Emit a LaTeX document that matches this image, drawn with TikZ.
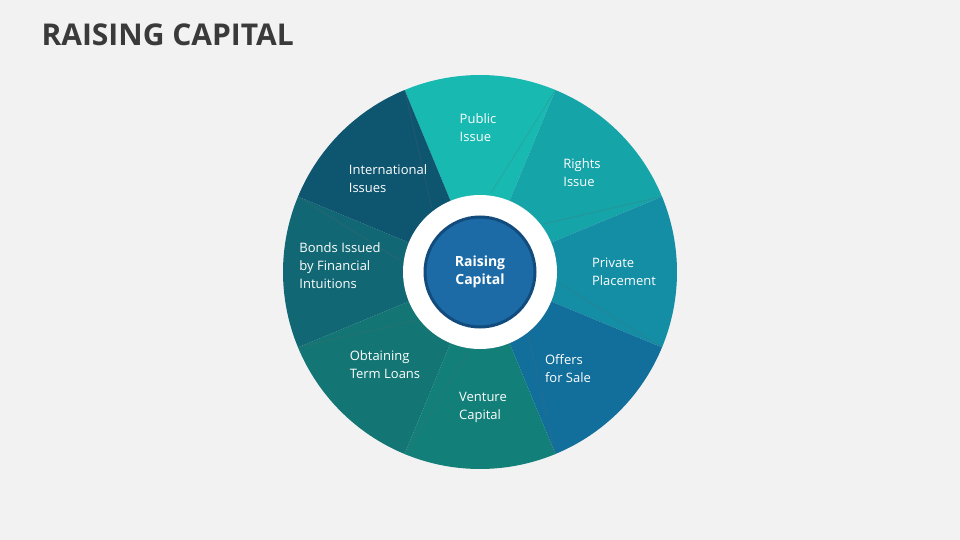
\documentclass[tikz,border=0pt]{standalone}
\usepackage{fontspec}
\usetikzlibrary{calc}
\setmainfont{Open Sans}
\definecolor{bg}{HTML}{F2F2F2}
\definecolor{ttl}{HTML}{3A3A3A}
\definecolor{cA}{HTML}{17B9B1}
\definecolor{cB}{HTML}{15A4A8}
\definecolor{cC}{HTML}{138EA5}
\definecolor{cD}{HTML}{126F9C}
\definecolor{cE}{HTML}{127F78}
\definecolor{cF}{HTML}{137674}
\definecolor{cG}{HTML}{116874}
\definecolor{cH}{HTML}{0E5570}
\definecolor{cblue}{HTML}{1C6BA6}
\definecolor{cring}{HTML}{124C7C}
\begin{document}
\begin{tikzpicture}[x=1pt,y=-1pt,
  lab/.style={text=white,font=\fontsize{13}{18}\selectfont,align=left}]
\useasboundingbox (0,0) rectangle (960,540);
\fill[bg] (0,0) rectangle (960,540);
\node[anchor=west,text=ttl,font=\fontsize{30}{34}\selectfont\bfseries] (title) at (38,35) {RAISING CAPITAL};
\coordinate (c) at (480,272);
\foreach \a/\col in {90/cA,45/cB,0/cC,-45/cD,-90/cE,-135/cF,180/cG,135/cH}{
  \fill[\col] (c) -- ($(c)+({\a+22.5}:197 and -197)$) arc[start angle={-(\a+22.5)}, end angle={-(\a-22.5)}, radius=197] -- cycle;
  \draw[black!60,opacity=0.2,line width=1pt] ($(c)+({\a-22.5}:197 and -197)$) -- ($(c)+({\a-8}:80 and -80)$);
}
\fill[white] (c) circle (77);
\fill[cblue,draw=cring,line width=3pt] (c) circle (55);
\node[text=white,font=\fontsize{14}{18}\selectfont\bfseries,align=center] (center) at (c) {Raising\\Capital};
\node[lab,align=left] (pub) at (478,128) {Public\\Issue};
\node[lab] (rig) at (582,173) {Rights\\Issue};
\node[lab] (pri) at (624,272) {Private\\Placement};
\node[lab] (off) at (568,369) {Offers\\for Sale};
\node[lab] (ven) at (483,407) {Venture\\Capital};
\node[lab] (obt) at (385,365) {Obtaining\\Term Loans};
\node[lab] (bon) at (340,266) {Bonds Issued\\by Financial\\Intuitions};
\node[lab] (int) at (388,179) {International\\Issues};
\end{tikzpicture}
\end{document}
